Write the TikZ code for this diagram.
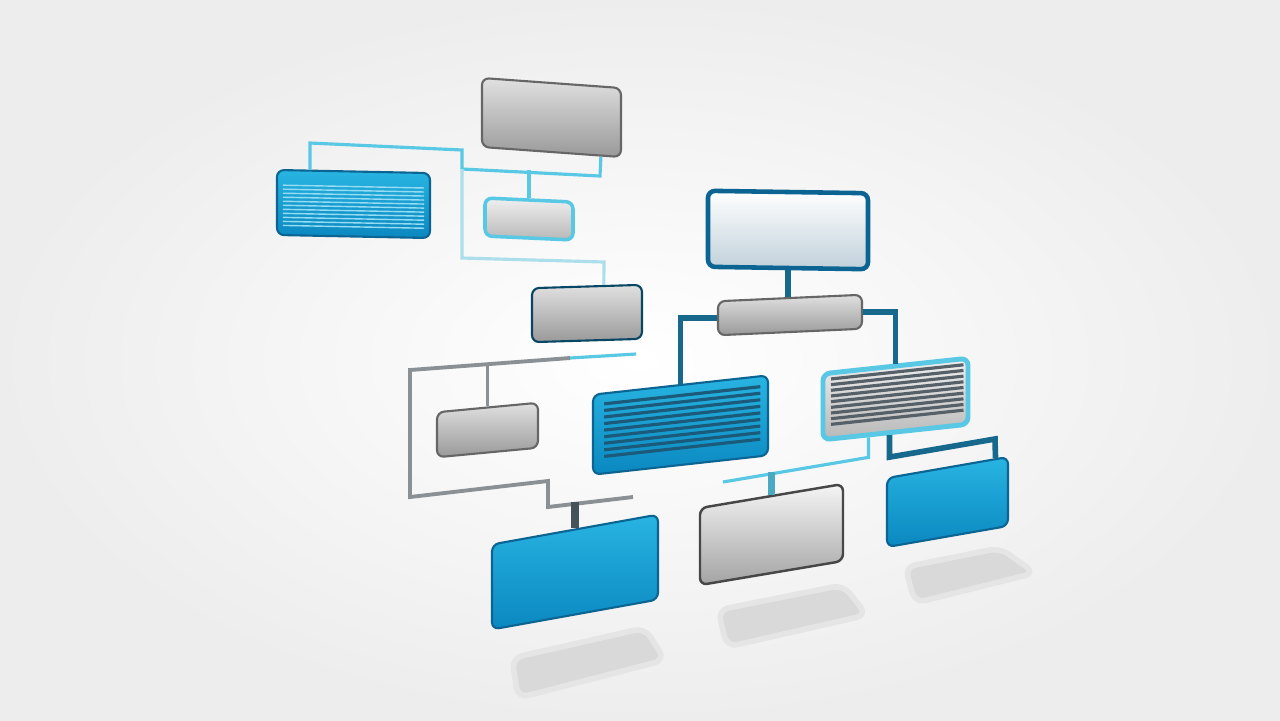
\documentclass[tikz,border=0pt]{standalone}
\usepackage{tikz}
\usetikzlibrary{calc}

\definecolor{skyblue}{RGB}{40,180,226}
\definecolor{deepblue}{RGB}{10,136,192}
\definecolor{edgeblue}{RGB}{12,100,146}
\definecolor{headgrey}{RGB}{192,208,218}
\definecolor{linkcyan}{RGB}{88,200,228}
\definecolor{linkpale}{RGB}{172,222,236}
\definecolor{linkdark}{RGB}{22,104,140}
\definecolor{linkgrey}{RGB}{138,144,148}
\definecolor{stubgrey}{RGB}{70,82,90}
\definecolor{stripedark}{RGB}{28,90,122}
\definecolor{stripegrey}{RGB}{86,96,104}
\definecolor{stripelight}{RGB}{150,220,242}

\tikzstyle{card} = [rectangle, inner sep=0pt, rounded corners=2pt]
\tikzstyle{greycard} = [card, draw=black!60, line width=0.6pt, top color=black!12, bottom color=black!40]
\tikzstyle{palecard} = [card, draw=black!72, line width=0.7pt, top color=black!4, bottom color=black!36]
\tikzstyle{bluecard} = [card, draw=edgeblue, line width=0.6pt, top color=skyblue, bottom color=deepblue]
\tikzstyle{headcard} = [card, draw=edgeblue, line width=1.3pt, top color=white, bottom color=headgrey]
\tikzstyle{glasscard} = [card, draw=linkcyan, line width=1pt, top color=black!6, bottom color=black!28]
\tikzstyle{floorshadow} = [fill=black!15, draw=black!10, line width=1.6pt, rounded corners=3pt]
\tikzstyle{cyanlink} = [draw=linkcyan, line width=0.9pt]
\tikzstyle{palelink} = [draw=linkpale, line width=0.9pt]
\tikzstyle{darklink} = [draw=linkdark, line width=1.6pt]
\tikzstyle{greylink} = [draw=linkgrey, line width=1.1pt]
\tikzstyle{cyanstub} = [draw=linkcyan!85!black, line width=2pt]
\tikzstyle{greystub} = [draw=stubgrey, line width=2pt]
\tikzstyle{lightstripe} = [draw=stripelight, line width=0.4pt, shorten <=2pt, shorten >=2pt]
\tikzstyle{darkstripe} = [draw=stripedark, line width=0.9pt, shorten <=3.5pt, shorten >=2.5pt]
\tikzstyle{greystripe} = [draw=stripegrey, line width=0.9pt, shorten <=3pt, shorten >=2pt]

\begin{document}
\begin{tikzpicture}[x=0.1mm, y=-0.1mm]
            \useasboundingbox (0,0) rectangle (1280,720);
            \fill[inner color=white, outer color=black!7] (0,0) rectangle (1280,720);

            \path[floorshadow] (512,658) -- (645,628) -- (665,660) -- (518,698) -- cycle;
            \path[floorshadow] (718,610) -- (843,585) -- (867,615) -- (727,647) -- cycle;
            \path[floorshadow] (905,567) -- (1000,548) -- (1035,573) -- (915,603) -- cycle;

            \node [greycard, minimum width=13.9mm, minimum height=6.9mm, yslant=-0.072] (top) at (551.5,117.5) {};
            \node [bluecard, minimum width=15.3mm, minimum height=6.5mm, yslant=-0.02] (lstripe) at (353.5,204) {};
            \node [glasscard, minimum width=8.8mm, minimum height=3.8mm, yslant=-0.045] (small) at (529,219) {};
            \node [greycard, draw=edgeblue!70!black, minimum width=11mm, minimum height=5.4mm, yslant=0.03] (mid) at (587,313.5) {};
            \node [headcard, minimum width=16mm, minimum height=7.6mm, yslant=-0.015] (head) at (788,230) {};
            \node [greycard, minimum width=14.4mm, minimum height=3.4mm, yslant=0.045] (bar) at (790,315) {};
            \node [bluecard, minimum width=17.5mm, minimum height=8mm, yslant=0.11] (cstripe) at (680.5,425) {};
            \node [glasscard, line width=1.4pt, minimum width=14.5mm, minimum height=6.6mm, yslant=0.107] (rstripe) at (895.5,399) {};
            \node [greycard, minimum width=10.1mm, minimum height=4.5mm, yslant=0.094] (lsmall) at (487.5,430) {};
            \node [bluecard, minimum width=16.6mm, minimum height=8.5mm, yslant=0.18] (bblue) at (575,572) {};
            \node [palecard, minimum width=14.3mm, minimum height=7.7mm, yslant=0.168] (bgray) at (771.5,534.5) {};
            \node [bluecard, minimum width=12.1mm, minimum height=6.9mm, yslant=0.174] (bright) at (947.5,502) {};

            \foreach \t in {0.24,0.3,0.36,0.42,0.48,0.54,0.6,0.66,0.72,0.78,0.84}
                \draw[lightstripe] ($(lstripe.north west)!\t!(lstripe.south west)$) -- ($(lstripe.north east)!\t!(lstripe.south east)$);
            \foreach \t in {0.14,0.22,0.3,0.38,0.46,0.54,0.62,0.7,0.78}
                \draw[darkstripe] ($(cstripe.north west)!\t!(cstripe.south west)$) -- ($(cstripe.north east)!\t!(cstripe.south east)$);
            \foreach \t in {0.12,0.2,0.28,0.36,0.44,0.52,0.6,0.68,0.76}
                \draw[greystripe] ($(rstripe.north west)!\t!(rstripe.south west)$) -- ($(rstripe.north east)!\t!(rstripe.south east)$);

            \coordinate (hub) at (462,169);
            \draw[cyanlink] ($(top.south west)!0.85!(top.south east)$) -- (600,176) -- (hub);
            \draw[cyanlink] (small.north) -- ++(0,-28);
            \draw[cyanlink] (hub) -- (462,150) -- (310,143) -- ($(lstripe.north west)!0.22!(lstripe.north east)$);
            \draw[palelink] (hub) -- (462,258) -- (604,262) -- ($(mid.north west)!0.65!(mid.north east)$);

            \draw[darklink] (head.south) -- (head.south |- bar.north);
            \draw[darklink] (bar.west) -| (cstripe.north);
            \draw[darklink] (bar.east) -| (rstripe.north);

            \draw[cyanlink] ($(rstripe.south west)!0.32!(rstripe.south east)$) -- ++(0,20) -- (723,482);
            \draw[cyanstub] (bgray.north) -- ++(0,-23);
            \draw[darklink] ($(rstripe.south west)!0.46!(rstripe.south east)$) -- ++(0,22) -- (995,439) -- ($(bright.north west)!0.89!(bright.north east)$);

            \coordinate (gfade) at (636,354);
            \coordinate (gturn) at (570,358);
            \draw[cyanlink] (gfade) -- (gturn);
            \draw[greylink] (gturn) -- (410,370) -- (410,497) -- (548,481) -- (548,507) -- (633,497);
            \draw[greylink] (lsmall.north) -- ++(0,-43);
            \draw[greystub] (bblue.north) -- ++(0,-26);
\end{tikzpicture}
\end{document}
